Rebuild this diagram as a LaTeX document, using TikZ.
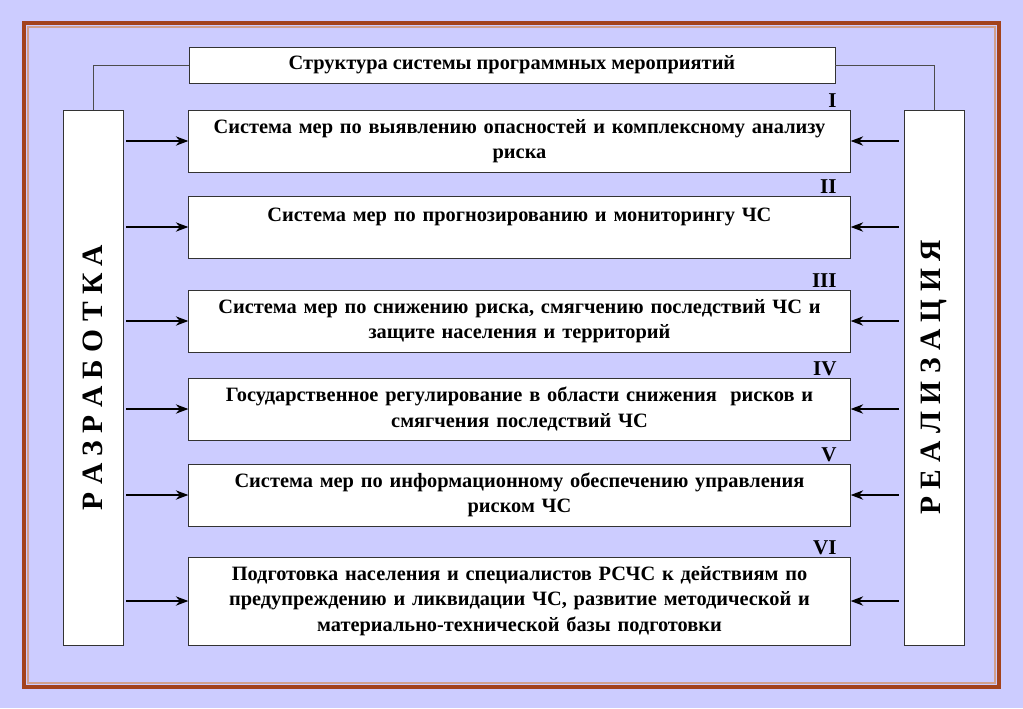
\documentclass[tikz,border=0pt]{standalone}
\usepackage{fontspec}
\setmainfont{Liberation Serif}
\usetikzlibrary{arrows.meta}
\definecolor{lavender}{HTML}{CCCCFF}
\definecolor{framebrown}{HTML}{A3421C}
\begin{document}
\begin{tikzpicture}[x=0.02cm, y=-0.02cm,
        box/.style={rectangle, draw=black!80, fill=white, align=center, font=\bfseries\fontsize{11.6}{14.5}\selectfont},
        side/.style={rectangle, draw=black!80, fill=white},
        num/.style={anchor=south east, inner sep=1pt, font=\bfseries\fontsize{12}{12}\selectfont},
        arrow/.style={-{Stealth[length=2.5mm]}, semithick},
        vtext/.style={rotate=90, font=\bfseries\fontsize{16.8}{17}\selectfont},
    ]
        % Background and frame
        \fill[lavender] (0,0) rectangle (1023,708);
        \draw[framebrown, line width=2pt] (24,23) rectangle (999,687);
        \draw[framebrown!50, line width=0.8pt] (28,27) rectangle (995,683);

        % Title
        \node[box, minimum width=646*0.02cm, minimum height=36*0.02cm] (title) at (512,65) {Структура системы программных мероприятий};

        % Side columns
        \node[side, minimum width=60*0.02cm, minimum height=535*0.02cm] (dev) at (93,377.5) {};
        \node[side, minimum width=60*0.02cm, minimum height=535*0.02cm] (impl) at (934,377.5) {};
        \node[vtext] at (dev.center) {Р А З Р А Б О Т К А};
        \node[vtext] at (impl.center) {Р Е А Л И З А Ц И Я};

        % Measure boxes
        \foreach \n/\yc/\h/\txt in {
            1/141/62/{Система мер по выявлению опасностей и комплексному анализу\\риска},
            2/227/62/{Система мер по прогнозированию и мониторингу ЧС\\\mbox{}},
            3/321/62/{Система мер по снижению риска, смягчению последствий ЧС и\\защите населения и территорий},
            4/409/62/{Государственное регулирование в области снижения \ рисков и\\смягчения последствий ЧС},
            5/495/62/{Система мер по информационному обеспечению управления\\риском ЧС},
            6/601/88/{Подготовка населения и специалистов РСЧС к действиям по\\предупреждению и ликвидации ЧС, развитие методической и\\материально-технической базы подготовки}}
        {
            \node[box, minimum width=661*0.02cm, minimum height=\h*0.02cm, text width=650*0.02cm] (m\n) at (519.5,\yc) {\txt};
            \draw[arrow] (dev.east |- m\n.west) ++(3,0) -- (m\n.west);
            \draw[arrow] (impl.west |- m\n.east) ++(-5,0) -- (m\n.east);
        }

        % Roman numerals
        \foreach \n/\r in {1/I, 2/II, 3/III, 4/IV, 5/V, 6/VI}
            \node[num] at ([xshift=-12*0.02cm]m\n.north east) {\r};

        % Links to title
        \draw[black!70] (dev.north) |- (title.west);
        \draw[black!70] (impl.north) |- (title.east);
    \end{tikzpicture}
\end{document}
